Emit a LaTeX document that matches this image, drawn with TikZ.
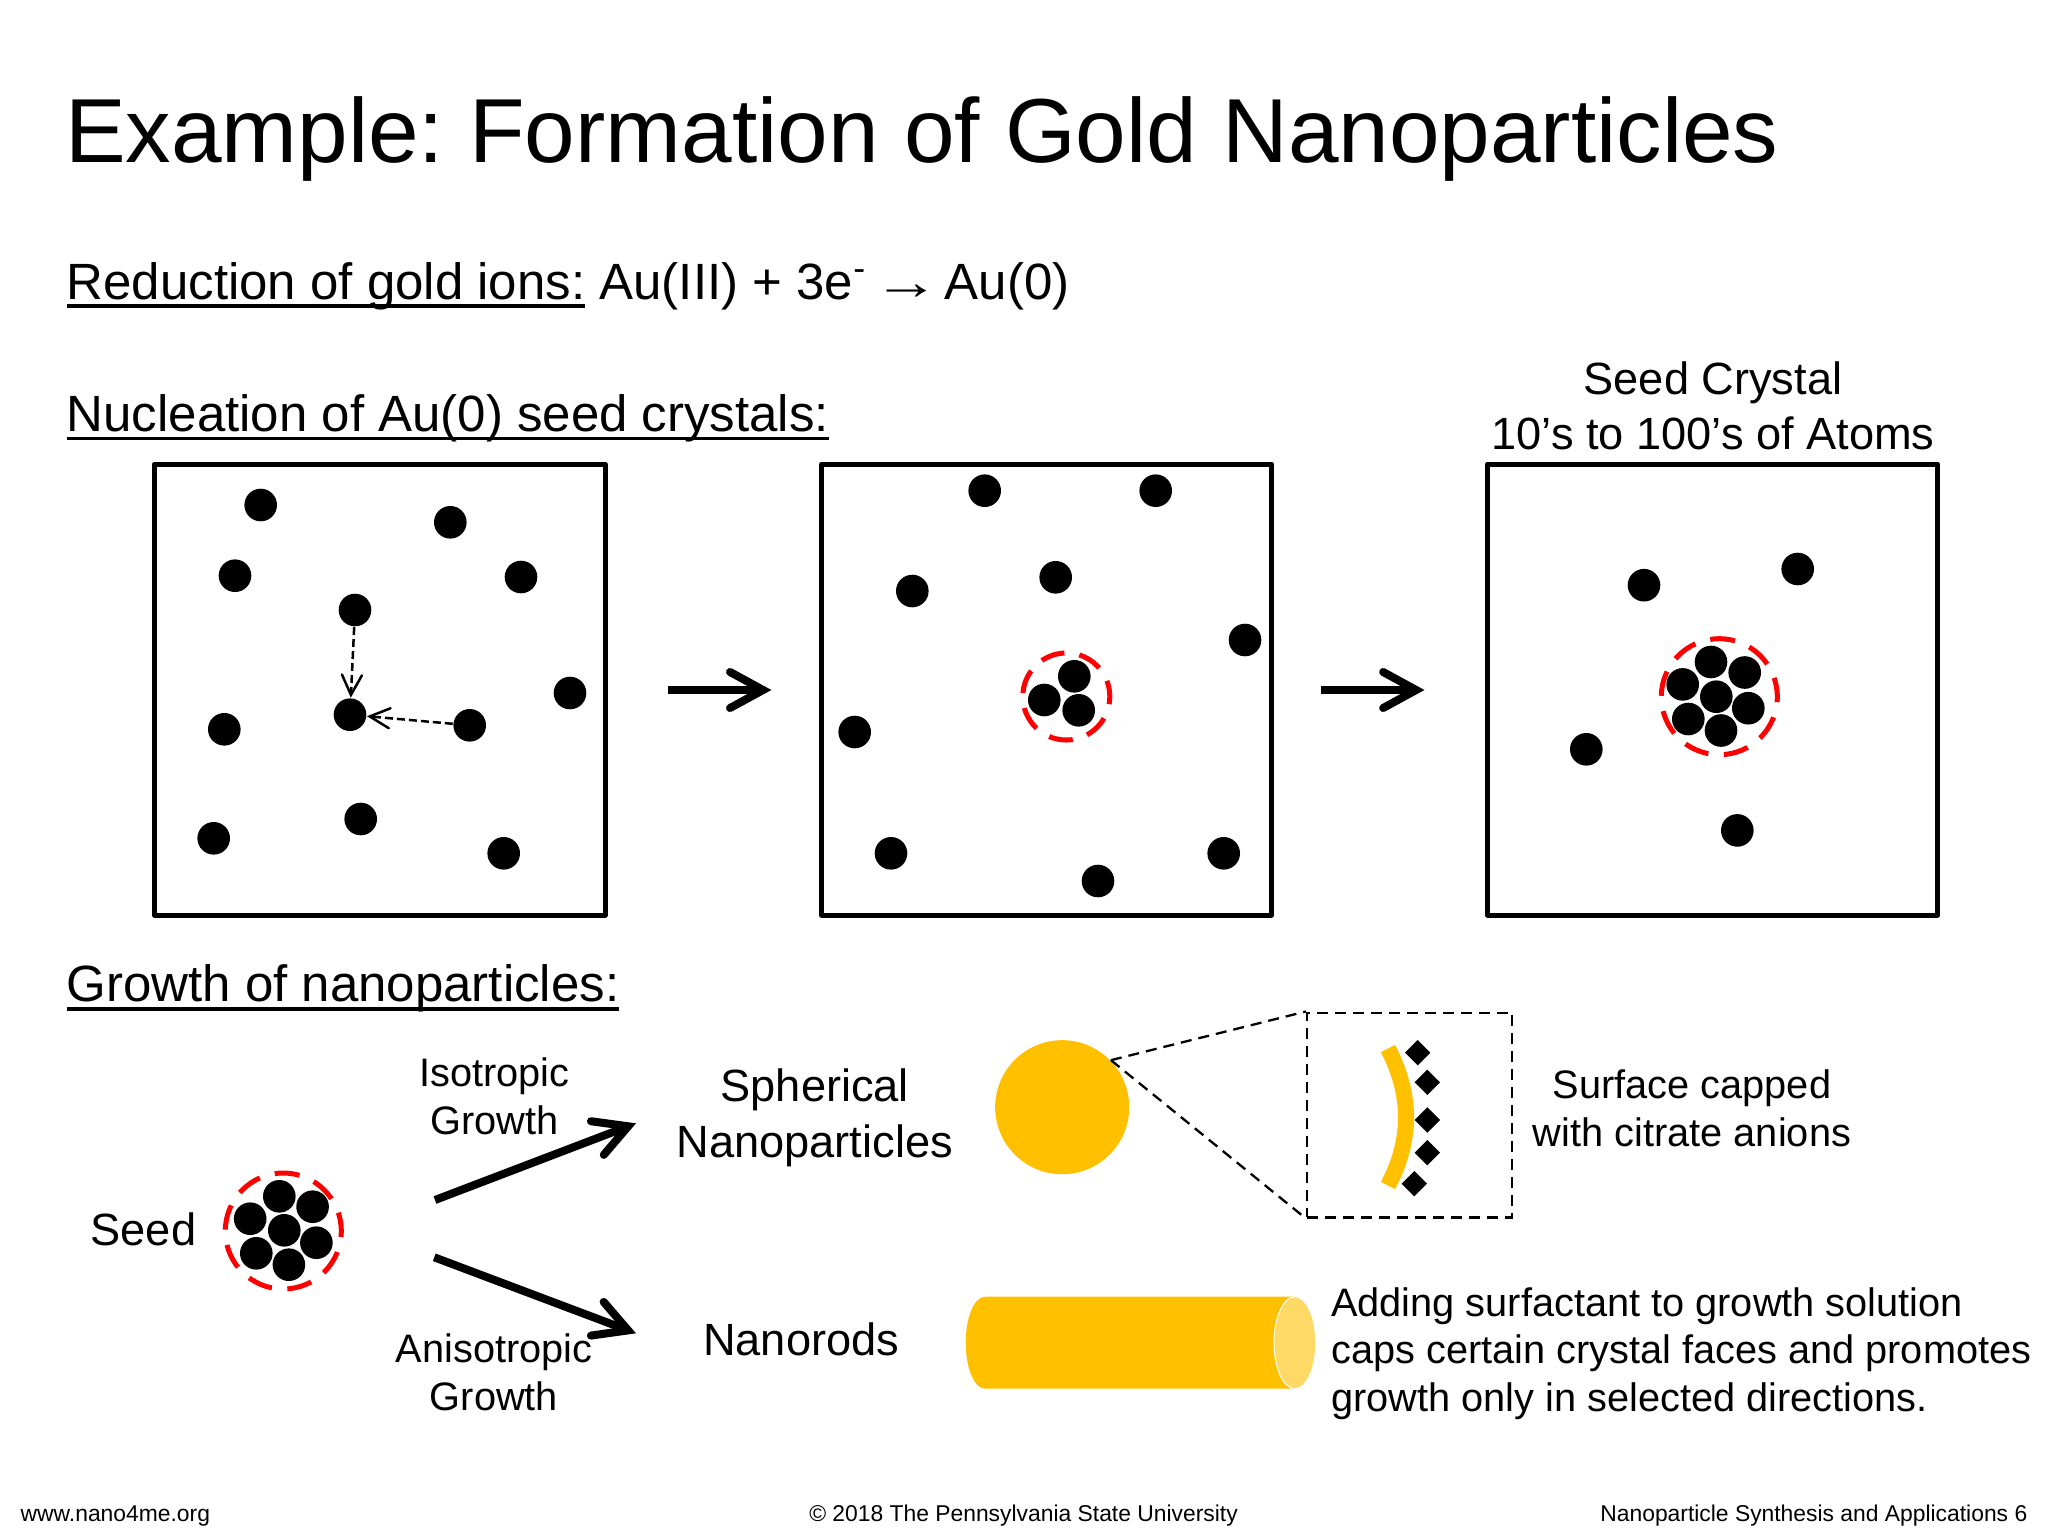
\documentclass[tikz,border=0pt]{standalone}
\usepackage{fontspec}
\setmainfont{Liberation Sans}
\frenchspacing
\usetikzlibrary{arrows.meta,shapes.geometric}
\definecolor{Au}{RGB}{255, 192, 0}
\definecolor{AuL}{RGB}{255, 217, 102}
\newsavebox{\ubarbox}
\newcommand{\ubar}[1]{\sbox{\ubarbox}{#1}\rlap{\rule[-2.5pt]{\wd\ubarbox}{1pt}}\usebox{\ubarbox}}
\tikzset{
	atom/.style={circle,fill=black,inner sep=0,minimum size=0.326cm},
	citrate/.style={diamond,fill=black,inner sep=0,minimum size=0.26cm},
	boxframe/.style={line width=0.05cm,line join=round},
	seedring/.style={draw=red,line width=0.05cm},
	attract/.style={line width=0.025cm,dash pattern=on 0.08cm off 0.04cm,-{Straight Barb[length=0.2cm,width=0.2cm,line cap=round]}},
	bigarrow/.style={line width=0.08cm,-{Straight Barb[length=0.33cm,width=0.36cm,line cap=round]}},
	zoomline/.style={line width=0.023cm,dash pattern=on 0.11cm off 0.07cm},
	titletxt/.style={font=\fontsize{25.86pt}{31pt}\selectfont,inner sep=0,anchor=base west},
	headtxt/.style={font=\fontsize{14.5pt}{17pt}\selectfont,inner sep=0,anchor=base west},
	labeltxt/.style={font=\fontsize{12.85pt}{15.65pt}\selectfont,inner sep=0,anchor=base,align=center},
	notetxt/.style={font=\fontsize{11.3pt}{13.57pt}\selectfont,inner sep=0,anchor=base,align=center},
	foottxt/.style={font=\fontsize{6.5pt}{8pt}\selectfont,inner sep=0,anchor=base}
}
\begin{document}
\begin{tikzpicture}[x=0.01cm,y=-0.01cm]
	\useasboundingbox (0,0) rectangle (2048,1536);

	%Titulos
	\node[titletxt] (title) at (64.5,162.3) {Example: Formation of Gold Nanoparticles};
	\node[headtxt] (reduction) at (66,299) {\ubar{Reduction of gold ions:} Au(III) + 3e\textsuperscript{-}\hspace{2pt}\scalebox{1.3}[1]{→}\hspace{1.3pt}Au(0)};
	\node[headtxt] (nucleation) at (66,431.4) {\ubar{Nucleation of Au(0) seed crystals:}};
	\node[headtxt] (growth) at (66,1001.7) {\ubar{Growth of nanoparticles:}};
	\node[labeltxt] (seedcrystal) at (1713,449.8) {Seed Crystal\\10’s to 100’s of Atoms};

	%Cuadro 1
	\draw[boxframe] (154.3,464) rectangle (605,915);
	\node[atom] (a1) at (260.7,505) {};
	\node[atom] (a2) at (450.3,522.3) {};
	\node[atom] (a3) at (235,575.7) {};
	\node[atom] (a4) at (521,577) {};
	\node[atom] (a5) at (355,610) {};
	\node[atom] (a6) at (570,693) {};
	\node[atom] (a7) at (350,714.7) {};
	\node[atom] (a8) at (469.7,725.3) {};
	\node[atom] (a9) at (224.3,729.3) {};
	\node[atom] (a10) at (360.7,819) {};
	\node[atom] (a11) at (213.7,838.3) {};
	\node[atom] (a12) at (503.7,853.3) {};
	\draw[attract] (a5) -- (a7);
	\draw[attract] (a8) -- (a7);

	%Cuadro 2
	\draw[boxframe] (821.7,464) rectangle (1271.7,915);
	\node[atom] (b1) at (984.7,490.7) {};
	\node[atom] (b2) at (1155.7,490.7) {};
	\node[atom] (b3) at (1055.7,577.3) {};
	\node[atom] (b4) at (912.3,591) {};
	\node[atom] (b5) at (1245,640) {};
	\node[atom] (b6) at (854.7,732) {};
	\node[atom] (b7) at (891,853.3) {};
	\node[atom] (b8) at (1223.7,853.3) {};
	\node[atom] (b9) at (1098,881) {};
	\node[atom] (b10) at (1074.3,676.3) {};
	\node[atom] (b11) at (1044.3,700) {};
	\node[atom] (b12) at (1078.7,710.3) {};
	\draw[seedring,dash pattern=on 0.24cm off 0.1505cm,dash phase=0.163cm] (1066.3,696.5) circle (43.5);

	%Cuadro 3
	\draw[boxframe] (1487.3,464) rectangle (1937.7,915);
	\node[atom] (c1) at (1644,585.2) {};
	\node[atom] (c2) at (1797.7,569) {};
	\node[atom] (c3) at (1586.3,749.3) {};
	\node[atom] (c4) at (1737.3,830.4) {};
	\node[atom] (c5) at (1711,662) {};
	\node[atom] (c6) at (1744.7,672.5) {};
	\node[atom] (c7) at (1682.7,684.4) {};
	\node[atom] (c8) at (1716.3,696.7) {};
	\node[atom] (c9) at (1748.3,708.2) {};
	\node[atom] (c10) at (1688.3,719) {};
	\node[atom] (c11) at (1721,730.5) {};
	\draw[seedring,dash pattern=on 0.25cm off 0.155cm,dash phase=0.195cm] (1719.3,696.7) circle (58);

	%Flechas entre cuadros
	\coordinate (fa1) at (667.9,690);
	\coordinate (fa2) at (771.4,690);
	\coordinate (fb1) at (1321.4,690);
	\coordinate (fb2) at (1424.5,690);
	\draw[bigarrow] (fa1) -- (fa2);
	\draw[bigarrow] (fb1) -- (fb2);

	%Semilla
	\node[labeltxt] (seed) at (143.5,1245) {Seed};
	\node[atom] (s1) at (279.3,1196.3) {};
	\node[atom] (s2) at (312.6,1206.7) {};
	\node[atom] (s3) at (250.2,1218.7) {};
	\node[atom] (s4) at (284.3,1230.3) {};
	\node[atom] (s5) at (316.4,1242.7) {};
	\node[atom] (s6) at (256.3,1253.3) {};
	\node[atom] (s7) at (288.9,1264.7) {};
	\draw[seedring,dash pattern=on 0.25cm off 0.155cm,dash phase=0.19cm] (283.3,1231) circle (58);

	%Crecimiento
	\coordinate (iso1) at (435,1200);
	\coordinate (iso2) at (636,1123.3);
	\coordinate (ani1) at (434.3,1257.3);
	\coordinate (ani2) at (636,1333.3);
	\draw[bigarrow] (iso1) -- (iso2);
	\draw[bigarrow] (ani1) -- (ani2);
	\node[notetxt] (isotropic) at (494.5,1134.5) {Isotropic\\Growth};
	\node[notetxt] (anisotropic) at (494,1410.3) {Anisotropic\\Growth};
	\node[labeltxt] (spherical) at (814.8,1157) {Spherical\\Nanoparticles};
	\node[labeltxt] (nanorods) at (801.2,1355.7) {Nanorods};

	%Esfera y detalle de la superficie
	\node[circle,fill=Au,inner sep=0,minimum size=1.34cm] (sphere) at (1062.2,1107.2) {};
	\node[draw,zoomline,inner sep=0,minimum width=2.05cm,minimum height=2.046cm] (zoombox) at (1409.6,1115) {};
	\draw[zoomline] (sphere.44) -- (zoombox.north west);
	\draw[zoomline] (sphere.44) -- (zoombox.south west);
	\draw[Au,line width=0.16cm] (1388,1048.5) .. controls (1412,1095) and (1412,1140) .. (1388,1185.5);
	\node[citrate] (d1) at (1417.7,1052.7) {};
	\node[citrate] (d2) at (1427.3,1082.3) {};
	\node[citrate] (d3) at (1427.3,1120) {};
	\node[citrate] (d4) at (1427.3,1152.7) {};
	\node[citrate] (d5) at (1414.3,1183.7) {};
	\node[notetxt] (capped) at (1692,1146.5) {Surface capped\\with citrate anions};

	%Varilla
	\fill[Au] (1294.9,1296.7) -- (984.9,1296.7) .. controls (974.4,1296.7) and (965.7,1317) .. (965.7,1342.7) .. controls (965.7,1368) and (974.4,1388.7) .. (984.9,1388.7) -- (1294.9,1388.7) -- cycle;
	\draw[white,fill=AuL,line width=0.01cm] (1294.9,1342.7) ellipse (20.9 and 46);
	\node[notetxt,align=left,anchor=base west] (surfactant) at (1330.5,1411.5) {Adding surfactant to growth solution\\caps certain crystal faces and promotes\\growth only in selected directions.};

	%Pie
	\node[foottxt,anchor=base west] (footl) at (20,1521) {www.nano4me.org};
	\node[foottxt] (footc) at (1023.5,1521) {© 2018 The Pennsylvania State University};
	\node[foottxt,anchor=base east] (footr) at (2028,1521) {Nanoparticle Synthesis and Applications 6};
\end{tikzpicture}
\end{document}
